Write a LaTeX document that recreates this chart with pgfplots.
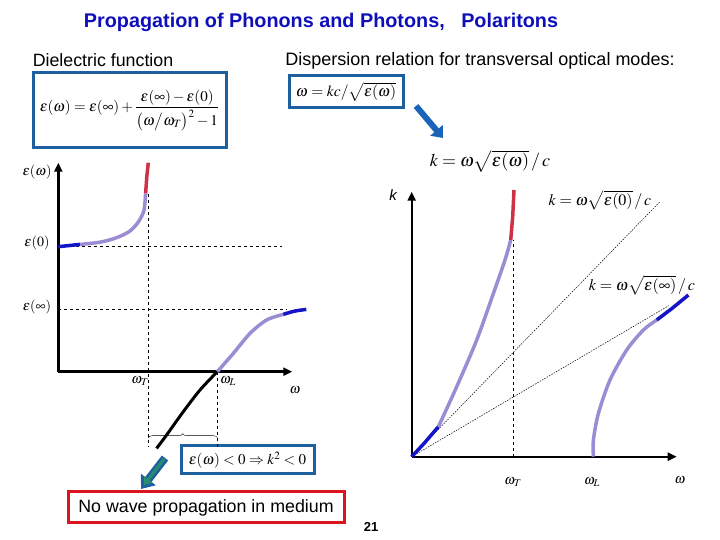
\documentclass[border=0pt]{standalone}
\usepackage{mathptmx}
\usepackage{pgfplots}
\pgfplotsset{compat=1.18}
\usepackage{fontspec}
\setmainfont{Liberation Sans}
\usetikzlibrary{arrows.meta,decorations.pathreplacing}
\definecolor{titleblue}{RGB}{15,15,185}
\definecolor{boxblue}{RGB}{30,95,160}
\definecolor{arrblue}{RGB}{25,100,185}
\definecolor{lav}{RGB}{155,140,212}
\definecolor{cblue}{RGB}{20,20,200}
\definecolor{cred}{RGB}{205,50,70}
\definecolor{boxred}{RGB}{220,20,30}
\definecolor{teal2}{RGB}{40,140,110}
\begin{document}
\begin{tikzpicture}[x=1pt,y=1pt]
\useasboundingbox (0,0) rectangle (720,540);
% titles
\node[text=titleblue,font=\fontsize{19.8}{23}\selectfont\bfseries] at (321,518) {Propagation of Phonons and Photons,\ \ \ Polaritons};
\node[font=\fontsize{17.8}{21}\selectfont] at (103,480) {Dielectric function};
\node[font=\fontsize{18}{21}\selectfont] at (480,479) {Dispersion relation for transversal optical modes:};
% boxes
\draw[boxblue,line width=3pt] (33,467) rectangle (226,392);
\node[font=\fontsize{15}{17}\selectfont] at (129.5,429.5) {$\displaystyle \varepsilon(\omega)=\varepsilon(\infty)+\frac{\varepsilon(\infty)-\varepsilon(0)}{\left(\omega\big/\omega_T\right)^2-1}$};
\draw[boxblue,line width=3pt] (289,464) rectangle (403,432);
\node[font=\fontsize{15.5}{18}\selectfont] at (346,448) {$\omega=kc/\sqrt{\varepsilon(\omega)}$};
\draw[boxblue,line width=3pt] (181,94) rectangle (314,66);
\node[font=\fontsize{15}{17}\selectfont] at (247.5,80) {$\varepsilon(\omega)<0\Rightarrow k^2<0$};
\draw[boxred,line width=3pt] (68,48) rectangle (344,17);
\node[font=\fontsize{17.8}{20}\selectfont] at (206,32.5) {No wave propagation in medium};
\node[font=\fontsize{13}{15}\selectfont\bfseries] at (371,13) {21};
% arrows
\draw[arrblue,line width=6pt,-{Triangle[length=10pt,width=16pt]}] (416,434) -- (443,402);
\draw[boxblue,line width=8pt,-{Triangle[length=12pt,width=18pt]}] (165,82) -- (141,51);
\draw[teal2,line width=3pt,-{Triangle[length=7pt,width=10pt]}] (164,81) -- (144,55);
% formula labels right
\node[font=\fontsize{18}{20}\selectfont] at (490,379) {$k=\omega\sqrt{\varepsilon(\omega)}\,/\,c$};
\node[font=\fontsize{16}{18}\selectfont] at (600,340) {$k=\omega\sqrt{\varepsilon(0)}\,/\,c$};
\node[font=\fontsize{16}{18}\selectfont] at (642,255) {$k=\omega\sqrt{\varepsilon(\infty)}\,/\,c$};
% left labels
\node[font=\fontsize{14}{16}\selectfont] at (37,368) {$\varepsilon(\omega)$};
\node[font=\fontsize{14}{16}\selectfont] at (37,297) {$\varepsilon(0)$};
\node[font=\fontsize{14}{16}\selectfont] at (37,233) {$\varepsilon(\infty)$};
\node[font=\fontsize{14}{16}\selectfont] at (140,159) {$\omega_T$};
\node[font=\fontsize{14}{16}\selectfont] at (228,159) {$\omega_L$};
\node[font=\fontsize{14}{16}\selectfont] at (295,150) {$\omega$};
% right labels
\node[font=\fontsize{15}{17}\selectfont\itshape] at (393,345) {k};
\node[font=\fontsize{14}{16}\selectfont] at (513,58) {$\omega_T$};
\node[font=\fontsize{14}{16}\selectfont] at (592,58) {$\omega_L$};
\node[font=\fontsize{14}{16}\selectfont] at (680,60) {$\omega$};
% left axis
\begin{axis}[at={(58.3pt,168.3pt)},anchor=south west,x=1pt,y=1pt,
  xmin=0,xmax=234,ymin=0,ymax=209,axis lines=left,clip=false,
  xtick=\empty,ytick=\empty,
  axis line style={line width=2.6pt,-{Triangle[length=9pt,width=8pt]}}]
\addplot[dashed,thin,black] coordinates {(0,125) (224,125)};
\addplot[dashed,thin,black] coordinates {(0,62) (229,62)};
\addplot[dashed,thin,black] coordinates {(90,178) (90,-75)};
\addplot[dashed,thin,black] coordinates {(159,0) (159,-75)};
\draw[decorate,decoration={brace,amplitude=4pt},thin] (axis cs:90,-66) -- (axis cs:159,-66);
\addplot[cblue,line width=3.5pt] coordinates {(0,125) (21.7,127.3)};
\addplot[lav,line width=3.5pt,smooth] coordinates {(21.7,127.3) (41.7,129.5) (58.3,134) (71.7,140.7) (80.7,150.7) (85.7,161.7) (87.3,178.3)};
\addplot[cred,line width=3.5pt] coordinates {(87.3,178.3) (88.5,195) (90,209)};
\addplot[lav,line width=3.5pt,smooth] coordinates {(159,0) (175,18.3) (191.7,38.3) (208.3,51.7) (225,57.3)};
\addplot[cblue,line width=3.5pt,smooth] coordinates {(225,57.3) (236,60.5) (248,62.3)};
\addplot[black,line width=3pt,smooth] coordinates {(159,0) (141.7,-18.3) (125,-40) (108.3,-63.3) (98.3,-76.7)};
\end{axis}
% right axis
\begin{axis}[at={(411.7pt,83.3pt)},anchor=south west,x=1pt,y=1pt,
  xmin=0,xmax=265,ymin=0,ymax=265,axis lines=left,clip=false,
  xtick=\empty,ytick=\empty,
  axis line style={line width=2.2pt,-{Triangle[length=9pt,width=8pt]}}]
\addplot[black,line width=0.5pt,dash pattern=on 1.5pt off 1.2pt] coordinates {(0,0) (248.3,255)};
\addplot[black,line width=0.5pt,dash pattern=on 1.5pt off 1.2pt] coordinates {(0,0) (257,151)};
\addplot[dashed,thin,black] coordinates {(101.7,0) (101.7,216.7)};
\addplot[cblue,line width=3.5pt] coordinates {(0,0) (13,14) (26.7,30)};
\addplot[lav,line width=3.5pt,smooth] coordinates {(26.7,30) (45,70) (65,116.7) (81.7,163.3) (93.3,196.7) (99,216.7)};
\addplot[cred,line width=3.5pt] coordinates {(99,216.7) (101,240) (102.3,266.7)};
\addplot[lav,line width=3.5pt,smooth] coordinates {(181.7,0) (181.7,16.7) (186.7,43.3) (198.3,76.7) (215,106.7) (231.7,126.7) (245,136.7)};
\addplot[cblue,line width=3.5pt] coordinates {(245,136.7) (260,148) (276.7,161.7)};
\end{axis}
\end{tikzpicture}
\end{document}
